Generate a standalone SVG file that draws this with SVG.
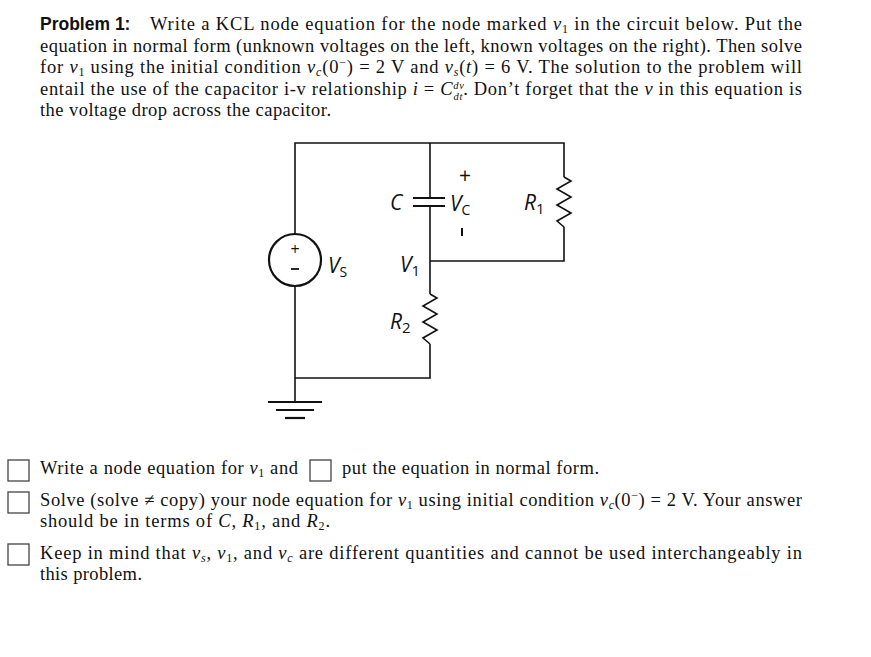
<svg xmlns="http://www.w3.org/2000/svg" width="871" height="657" viewBox="0 0 871 657">
<style>
.t{font-family:"Liberation Serif",serif;font-size:18.5px;fill:#111}
.i{font-style:italic}
.s{font-size:12px}
.f{font-size:10.5px}
.w{stroke:#111;stroke-width:1.6;fill:none}
.lab{font-family:"Open Sans","DejaVu Sans",sans-serif;font-size:21px;fill:#111}
.box{fill:#fff;stroke:#444;stroke-width:1.3}
</style>
<rect width="871" height="657" fill="#fff"/>
<g id="text">
<text x="40" y="30" style="font-family:'Liberation Sans',sans-serif;font-weight:bold;font-size:17.5px;fill:#111">Problem 1:</text>
<text class="t" x="150" y="30" textLength="652" lengthAdjust="spacing">Write a KCL node equation for the node marked <tspan class="i">v</tspan><tspan class="s" dy="3">1</tspan><tspan dy="-3"> in the circuit below. Put the</tspan></text>
<text class="t" x="40" y="52" textLength="762" lengthAdjust="spacing">equation in normal form (unknown voltages on the left, known voltages on the right). Then solve</text>
<text class="t" x="40" y="73" textLength="762" lengthAdjust="spacing">for <tspan class="i">v</tspan><tspan class="s" dy="3">1</tspan><tspan dy="-3"> using the initial condition </tspan><tspan class="i">v</tspan><tspan class="s i" dy="3">c</tspan><tspan dy="-3">(0</tspan><tspan class="s" dy="-7">−</tspan><tspan dy="7">) = 2 V and </tspan><tspan class="i">v</tspan><tspan class="s i" dy="3">s</tspan><tspan dy="-3">(</tspan><tspan class="i">t</tspan><tspan>) = 6 V.  The solution to the problem will</tspan></text>
<text class="t" x="40" y="95" textLength="762" lengthAdjust="spacing">entail the use of the capacitor i-v relationship <tspan class="i">i</tspan> = <tspan class="i">C</tspan><tspan class="f i" dy="-6">dv</tspan><tspan class="f i" dx="-11" dy="11">dt</tspan><tspan dy="-5">. Don’t forget that the </tspan><tspan class="i">v</tspan><tspan> in this equation is</tspan></text>
<text class="t" x="40" y="116" textLength="291" lengthAdjust="spacing">the voltage drop across the capacitor.</text>
</g>
<g id="connectors">
<polyline class="w" points="295,234 295,143 564,143 564,177"/>
<polyline class="w" points="564,227 564,261 430,261"/>
<line class="w" x1="430" y1="143" x2="430" y2="198"/>
<line class="w" x1="430" y1="206" x2="430" y2="294"/>
<polyline class="w" points="430,344 430,378 295,378"/>
<line class="w" x1="295" y1="286" x2="295" y2="402"/>
</g>
<g id="vs">
<circle cx="295" cy="260" r="26" fill="#fff" stroke="#111" stroke-width="2.2"/>
<text class="lab" x="295" y="255" text-anchor="middle" style="font-size:16px">+</text>
<line x1="291" y1="269" x2="299" y2="269" stroke="#111" stroke-width="1.8"/>
<text class="lab" x="328" y="273"><tspan class="i">V</tspan><tspan style="font-size:14px" dy="4">S</tspan></text>
</g>
<g id="C">
<line x1="413" y1="198" x2="445" y2="198" stroke="#111" stroke-width="2"/>
<line x1="413" y1="206" x2="445" y2="206" stroke="#111" stroke-width="2"/>
<text class="lab i" x="390" y="210">C</text>
<text class="lab" x="450" y="211"><tspan class="i">V</tspan><tspan style="font-size:14px" dy="4">C</tspan></text>
<text class="lab" x="465" y="183" text-anchor="middle">+</text>
<line x1="462" y1="228" x2="462" y2="236" stroke="#111" stroke-width="2"/>
</g>
<g id="R1">
<polyline class="w" points="564,177 571,181 557,189 571,197 557,205 571,213 557,221 564,227"/>
<text class="lab" x="524" y="210"><tspan class="i">R</tspan><tspan style="font-size:15px" dy="4">1</tspan></text>
</g>
<g id="v1">
<text class="lab" x="400" y="272"><tspan class="i">V</tspan><tspan style="font-size:15px" dy="4">1</tspan></text>
</g>
<g id="R2">
<polyline class="w" points="430,294 437,298 423,306 437,314 423,322 437,330 423,338 430,344"/>
<text class="lab" x="390" y="329"><tspan class="i">R</tspan><tspan style="font-size:15px" dy="4">2</tspan></text>
</g>
<g id="ground">
<line x1="268" y1="402" x2="322" y2="402" stroke="#111" stroke-width="2.2"/>
<line x1="276" y1="410" x2="314" y2="410" stroke="#111" stroke-width="2.2"/>
<line x1="285" y1="418" x2="305" y2="418" stroke="#111" stroke-width="2.2"/>
</g>
<g id="checklist">
<rect class="box" x="8" y="460" width="21" height="21"/>
<rect class="box" x="310" y="460" width="21" height="21"/>
<rect class="box" x="8" y="492" width="21" height="21"/>
<rect class="box" x="8" y="544" width="21" height="21"/>
<text class="t" x="40" y="474" textLength="258" lengthAdjust="spacing">Write a node equation for <tspan class="i">v</tspan><tspan class="s" dy="3">1</tspan><tspan dy="-3"> and</tspan></text>
<text class="t" x="342" y="474" textLength="257" lengthAdjust="spacing">put the equation in normal form.</text>
<text class="t" x="40" y="506" textLength="762" lengthAdjust="spacing">Solve (solve ≠ copy) your node equation for <tspan class="i">v</tspan><tspan class="s" dy="3">1</tspan><tspan dy="-3"> using initial condition </tspan><tspan class="i">v</tspan><tspan class="s i" dy="3">c</tspan><tspan dy="-3">(0</tspan><tspan class="s" dy="-7">−</tspan><tspan dy="7">) = 2 V.  Your answer</tspan></text>
<text class="t" x="40" y="527" textLength="290" lengthAdjust="spacing">should be in terms of <tspan class="i">C</tspan>, <tspan class="i">R</tspan><tspan class="s" dy="3">1</tspan><tspan dy="-3">, and </tspan><tspan class="i">R</tspan><tspan class="s" dy="3">2</tspan><tspan dy="-3">.</tspan></text>
<text class="t" x="40" y="559" textLength="762" lengthAdjust="spacing">Keep in mind that <tspan class="i">v</tspan><tspan class="s i" dy="3">s</tspan><tspan dy="-3">, </tspan><tspan class="i">v</tspan><tspan class="s" dy="3">1</tspan><tspan dy="-3">, and </tspan><tspan class="i">v</tspan><tspan class="s i" dy="3">c</tspan><tspan dy="-3"> are different quantities and cannot be used interchangeably in</tspan></text>
<text class="t" x="40" y="580" textLength="102" lengthAdjust="spacing">this problem.</text>
</g>
</svg>
